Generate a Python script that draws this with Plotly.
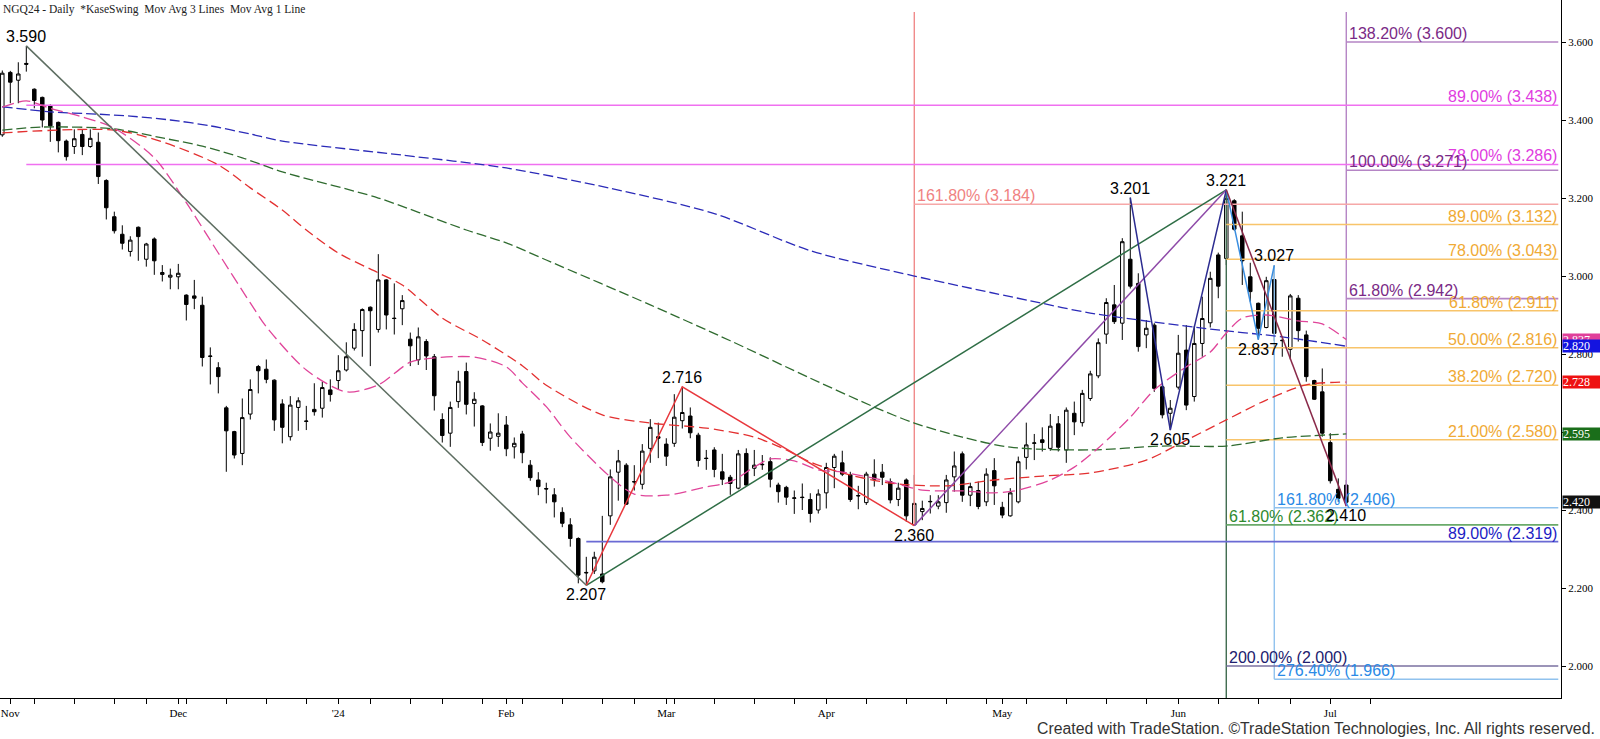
import pandas as pd
import plotly.graph_objects as go

# ---------------- DATA ----------------
HOLIDAYS = ["2023-11-23", "2023-12-25", "2024-01-01", "2024-01-15", "2024-02-19",
            "2024-03-29", "2024-05-27", "2024-06-19"]
calendar = [d for d in pd.bdate_range("2023-10-31", "2024-07-08")
            if d.strftime("%Y-%m-%d") not in HOLIDAYS]
FIRST_SESSION = -1          # 2023-10-31 ; session 0 = 2023-11-01
month_labels = ["Nov", "Dec", "'24", "Feb", "Mar", "Apr", "May", "Jun", "Jul"]

opens = [3.362, 3.522, 3.502, 3.545, 3.479, 3.458, 3.437, 3.394, 3.346, 3.332,
         3.363, 3.332, 3.343, 3.245, 3.152, 3.107, 3.063, 3.125, 3.043, 3.095,
         3.004, 2.997, 2.998, 2.951, 2.949, 2.925, 2.795, 2.765, 2.662, 2.601,
         2.545, 2.646, 2.768, 2.761, 2.733, 2.672, 2.588, 2.663, 2.627, 2.658,
         2.661, 2.708, 2.732, 2.759, 2.815, 2.860, 2.920, 2.863, 2.990, 2.892,
         2.916, 2.838, 2.785, 2.832, 2.793, 2.632, 2.597, 2.678, 2.755, 2.673,
         2.667, 2.584, 2.589, 2.618, 2.562, 2.595, 2.515, 2.477, 2.455, 2.439,
         2.394, 2.362, 2.327, 2.240, 2.244, 2.236, 2.385, 2.497, 2.515, 2.473,
         2.466, 2.558, 2.588, 2.569, 2.571, 2.629, 2.641, 2.592, 2.533, 2.554,
         2.498, 2.484, 2.456, 2.545, 2.507, 2.516, 2.524, 2.464, 2.458, 2.430,
         2.433, 2.427, 2.400, 2.444, 2.509, 2.521, 2.490, 2.436, 2.419, 2.492,
         2.497, 2.473, 2.427, 2.477, 2.362, 2.396, 2.421, 2.410, 2.419, 2.485,
         2.544, 2.438, 2.450, 2.421, 2.501, 2.407, 2.385, 2.421, 2.535, 2.571,
         2.580, 2.558, 2.621, 2.554, 2.648, 2.624, 2.686, 2.744, 2.851, 2.926,
         2.879, 3.043, 2.981, 2.849, 2.874, 2.716, 2.648, 2.715, 2.810, 2.691,
         2.827, 2.880, 3.054, 3.045, 3.193, 3.103, 2.998, 2.930, 2.868, 2.991,
         2.834, 2.812, 2.943, 2.849, 2.732, 2.703, 2.573, 2.453, 2.464]
highs = [3.527, 3.526, 3.548, 3.590, 3.481, 3.460, 3.440, 3.396, 3.350, 3.376,
         3.376, 3.376, 3.368, 3.248, 3.165, 3.130, 3.102, 3.127, 3.085, 3.099,
         3.028, 3.019, 3.031, 2.953, 2.990, 2.947, 2.817, 2.779, 2.667, 2.603,
         2.686, 2.735, 2.772, 2.786, 2.735, 2.684, 2.692, 2.689, 2.667, 2.725,
         2.729, 2.735, 2.797, 2.830, 2.879, 2.917, 2.922, 3.056, 2.992, 2.981,
         2.951, 2.855, 2.868, 2.838, 2.800, 2.648, 2.678, 2.757, 2.778, 2.702,
         2.669, 2.622, 2.648, 2.641, 2.586, 2.603, 2.528, 2.497, 2.470, 2.456,
         2.407, 2.379, 2.330, 2.280, 2.293, 2.385, 2.504, 2.554, 2.520, 2.515,
         2.569, 2.633, 2.624, 2.584, 2.697, 2.716, 2.663, 2.598, 2.554, 2.561,
         2.544, 2.490, 2.554, 2.558, 2.554, 2.541, 2.535, 2.470, 2.462, 2.450,
         2.468, 2.443, 2.453, 2.521, 2.544, 2.552, 2.498, 2.462, 2.498, 2.530,
         2.518, 2.481, 2.470, 2.481, 2.490, 2.424, 2.438, 2.438, 2.490, 2.550,
         2.550, 2.470, 2.473, 2.507, 2.533, 2.421, 2.456, 2.537, 2.624, 2.595,
         2.612, 2.646, 2.641, 2.663, 2.678, 2.708, 2.757, 2.840, 2.943, 2.977,
         3.097, 3.201, 3.007, 2.887, 2.879, 2.720, 2.682, 2.849, 2.874, 2.872,
         2.947, 3.011, 3.060, 3.221, 3.197, 3.165, 3.034, 2.932, 2.998, 3.027,
         2.840, 2.954, 2.951, 2.860, 2.734, 2.763, 2.597, 2.481, 2.477]
lows = [3.357, 3.443, 3.443, 3.524, 3.430, 3.381, 3.344, 3.317, 3.296, 3.313,
        3.310, 3.329, 3.236, 3.145, 3.109, 3.068, 3.050, 3.039, 3.024, 3.003,
        2.986, 2.966, 2.966, 2.886, 2.915, 2.768, 2.722, 2.699, 2.498, 2.532,
        2.515, 2.632, 2.699, 2.725, 2.603, 2.571, 2.578, 2.603, 2.605, 2.642,
        2.637, 2.678, 2.709, 2.755, 2.809, 2.793, 2.769, 2.855, 2.863, 2.850,
        2.874, 2.769, 2.772, 2.759, 2.655, 2.573, 2.562, 2.662, 2.645, 2.614,
        2.564, 2.552, 2.562, 2.538, 2.532, 2.520, 2.475, 2.438, 2.417, 2.381,
        2.356, 2.306, 2.212, 2.207, 2.236, 2.212, 2.362, 2.424, 2.413, 2.450,
        2.453, 2.521, 2.533, 2.513, 2.562, 2.609, 2.584, 2.511, 2.503, 2.484,
        2.464, 2.439, 2.453, 2.462, 2.487, 2.503, 2.458, 2.419, 2.413, 2.390,
        2.400, 2.368, 2.391, 2.404, 2.456, 2.487, 2.421, 2.402, 2.413, 2.460,
        2.464, 2.417, 2.410, 2.370, 2.360, 2.374, 2.391, 2.402, 2.393, 2.447,
        2.421, 2.410, 2.402, 2.410, 2.413, 2.379, 2.383, 2.417, 2.504, 2.528,
        2.550, 2.552, 2.550, 2.521, 2.592, 2.614, 2.680, 2.738, 2.826, 2.877,
        2.836, 2.968, 2.806, 2.815, 2.703, 2.635, 2.605, 2.709, 2.656, 2.678,
        2.793, 2.868, 2.943, 3.028, 3.116, 2.977, 2.934, 2.837, 2.866, 2.834,
        2.793, 2.786, 2.832, 2.729, 2.682, 2.588, 2.468, 2.421, 2.410]
closes = [3.520, 3.497, 3.518, 3.543, 3.450, 3.400, 3.385, 3.347, 3.306, 3.352,
          3.332, 3.353, 3.255, 3.175, 3.116, 3.084, 3.092, 3.101, 3.082, 3.039,
          3.009, 3.002, 3.007, 2.927, 2.943, 2.791, 2.794, 2.742, 2.603, 2.541,
          2.637, 2.709, 2.757, 2.735, 2.631, 2.612, 2.669, 2.680, 2.628, 2.652,
          2.714, 2.696, 2.757, 2.793, 2.863, 2.914, 2.911, 2.990, 2.900, 2.891,
          2.937, 2.821, 2.844, 2.795, 2.693, 2.591, 2.663, 2.730, 2.671, 2.684,
          2.573, 2.600, 2.597, 2.557, 2.571, 2.547, 2.483, 2.460, 2.454, 2.421,
          2.366, 2.327, 2.233, 2.239, 2.279, 2.216, 2.485, 2.526, 2.415, 2.472,
          2.551, 2.612, 2.584, 2.538, 2.638, 2.650, 2.598, 2.527, 2.532, 2.504,
          2.479, 2.468, 2.544, 2.464, 2.515, 2.517, 2.479, 2.447, 2.433, 2.431,
          2.432, 2.391, 2.441, 2.509, 2.538, 2.492, 2.427, 2.437, 2.492, 2.479,
          2.484, 2.426, 2.456, 2.385, 2.417, 2.404, 2.422, 2.421, 2.477, 2.513,
          2.438, 2.460, 2.409, 2.492, 2.462, 2.387, 2.444, 2.524, 2.567, 2.572,
          2.573, 2.615, 2.561, 2.656, 2.626, 2.699, 2.749, 2.829, 2.932, 2.883,
          3.088, 2.974, 2.819, 2.866, 2.712, 2.644, 2.661, 2.802, 2.669, 2.827,
          2.891, 2.994, 2.974, 3.199, 3.120, 3.039, 2.960, 2.866, 2.988, 2.853,
          2.835, 2.949, 2.860, 2.742, 2.684, 2.597, 2.475, 2.430, 2.420]

# moving averages (session number, value)
ma_blue_s = [-1, 5, 11, 15, 20, 25, 30, 34, 49, 62, 75, 88, 100, 113, 129, 135, 150, 159, 167]
ma_blue_v = [3.434, 3.421, 3.415, 3.410, 3.400, 3.385, 3.364, 3.346, 3.310, 3.277, 3.225,
             3.160, 3.065, 3.000, 2.930, 2.905, 2.864, 2.844, 2.820]
ma_green_s = [-1, 4, 13, 19, 24, 29, 34, 46, 57, 62, 67, 80, 90, 100, 108, 113, 119, 125,
              135, 144, 152, 159, 167]
ma_green_v = [3.374, 3.382, 3.377, 3.354, 3.333, 3.303, 3.267, 3.200, 3.118, 3.085, 3.041,
              2.926, 2.834, 2.738, 2.664, 2.623, 2.587, 2.561, 2.554, 2.564, 2.564, 2.585, 2.595]
ma_red_s = [-1, 13, 19, 26, 30, 34, 37, 41, 46, 49, 54, 59, 64, 67, 74, 80, 87, 93, 97,
            100, 104, 110, 117, 123, 129, 135, 142, 147, 152, 157, 162, 167]
ma_red_v = [3.367, 3.374, 3.344, 3.285, 3.226, 3.169, 3.118, 3.059, 3.008, 2.977, 2.892,
            2.836, 2.770, 2.720, 2.644, 2.623, 2.610, 2.587, 2.554, 2.523, 2.495, 2.469,
            2.462, 2.477, 2.487, 2.495, 2.528, 2.579, 2.631, 2.682, 2.721, 2.728]
ma_pink_s = [-1, 2, 5, 9, 13, 18, 22, 26, 30, 32, 37, 42, 46, 50, 53, 58, 62, 64, 67, 70,
             75, 78, 82, 87, 90, 93, 95, 98, 101, 104, 110, 114, 119, 123, 126, 130, 133,
             136, 140, 143, 147, 150, 152, 154, 157, 161, 164, 167]
ma_pink_v = [3.433, 3.449, 3.430, 3.408, 3.379, 3.303, 3.188, 3.059, 2.931, 2.870, 2.759,
             2.703, 2.721, 2.779, 2.790, 2.792, 2.767, 2.726, 2.665, 2.587, 2.485, 2.441,
             2.438, 2.459, 2.472, 2.510, 2.531, 2.526, 2.503, 2.497, 2.472, 2.451, 2.449,
             2.444, 2.451, 2.477, 2.510, 2.559, 2.638, 2.708, 2.767, 2.805, 2.854, 2.892,
             2.900, 2.885, 2.877, 2.837]

# KaseSwing pivots
swing_sessions = [2, 72, 84, 113, 140, 145, 152, 156, 158, 167]
swing_prices = [3.590, 2.207, 2.716, 2.360, 3.201, 2.605, 3.221, 2.837, 3.027, 2.410]
swing_sides = ["above", "below", "above", "below", "above", "below", "above", "below",
               "above", "below"]

# Fibonacci level sets
fib_orange_levels = [3.132, 3.043, 2.911, 2.816, 2.720, 2.580]
fib_orange_pcts = ["89.00%", "78.00%", "61.80%", "50.00%", "38.20%", "21.00%"]
fib_magenta_levels = [3.438, 3.286]
fib_magenta_pcts = ["89.00%", "78.00%"]
fib_navy_levels = [2.319]
fib_navy_pcts = ["89.00%"]
fib_purple_levels = [3.600, 3.271, 2.942]
fib_purple_pcts = ["138.20%", "100.00%", "61.80%"]
fib_salmon_levels = [3.184]
fib_salmon_pcts = ["161.80%"]
fib_green_levels = [2.362]
fib_green_pcts = ["61.80%"]
fib_gray_levels = [2.000]
fib_gray_pcts = ["200.00%"]
fib_sky_levels = [2.406, 1.966]
fib_sky_pcts = ["161.80%", "276.40%"]

# ---------------- LAYOUT CONSTANTS ----------------
X_LEFT, X_RIGHT = -1.2875, 193.84
X_LINE_END = 193.5
Y_LO, Y_HI = 1.918, 3.7077
FIB_TOP = 3.677
SANS = "Liberation Sans, Arial, sans-serif"
SERIF = "Liberation Serif, Times New Roman, serif"

sessions = list(range(FIRST_SESSION, FIRST_SESSION + len(calendar)))
bar_x = sessions[:len(opens)]

# month and week ticks from the trading calendar
month_ticks, week_ticks = [], []
for k in range(1, len(calendar)):
    if calendar[k].month != calendar[k - 1].month:
        month_ticks.append(sessions[k])
    if calendar[k].isocalendar()[1] != calendar[k - 1].isocalendar()[1]:
        week_ticks.append(sessions[k])

fig = go.Figure()

fig.add_trace(go.Candlestick(
    x=bar_x, open=opens, high=highs, low=lows, close=closes,
    increasing=dict(line=dict(color="black", width=1), fillcolor="white"),
    decreasing=dict(line=dict(color="black", width=1), fillcolor="black"),
    whiskerwidth=0, hoverinfo="skip", showlegend=False))

annotations = []

def hline(x0, x1, y, color, width=1.6):
    fig.add_trace(go.Scatter(x=[x0, x1], y=[y, y], mode="lines",
                             line=dict(color=color, width=width),
                             hoverinfo="skip", showlegend=False))

def vline(x, y0, y1, color, width=1.4):
    fig.add_trace(go.Scatter(x=[x, x], y=[y0, y1], mode="lines",
                             line=dict(color=color, width=width),
                             hoverinfo="skip", showlegend=False))

def fib_set(anchor, levels, pcts, lcolor, tcolor, align):
    for v, pct in zip(levels, pcts):
        hline(anchor, X_LINE_END, v, lcolor)
        txt = f"{pct} ({v:.3f})"
        if align == "right":
            annotations.append(dict(x=X_LINE_END, y=v, xref="x", yref="y", text=txt,
                                    showarrow=False, xanchor="right", yanchor="bottom",
                                    font=dict(family=SANS, size=16, color=tcolor),
                                    borderpad=0, yshift=-1))
        else:
            annotations.append(dict(x=anchor, y=v, xref="x", yref="y", text=txt,
                                    showarrow=False, xanchor="left", yanchor="bottom",
                                    xshift=2, font=dict(family=SANS, size=16, color=tcolor),
                                    borderpad=0, yshift=-1))

# vertical fib anchors
vline(swing_sessions[9], swing_prices[9], FIB_TOP, "#b585c5")
vline(swing_sessions[3], swing_prices[3], FIB_TOP, "#f08a8a")
vline(swing_sessions[6], Y_LO, swing_prices[6], "#3f6b4f")
vline(swing_sessions[8], fib_sky_levels[-1], swing_prices[8], "#90c2ee")

fib_set(swing_sessions[6], fib_orange_levels, fib_orange_pcts, "#f8c46a", "#f0aa35", "right")
fib_set(swing_sessions[0], fib_magenta_levels, fib_magenta_pcts, "#f070f0", "#e03ce0", "right")
fib_set(swing_sessions[1], fib_navy_levels, fib_navy_pcts, "#6a6ad4", "#1c1cc4", "right")
fib_set(swing_sessions[9], fib_purple_levels, fib_purple_pcts, "#b585c5", "#7a2a86", "left")
fib_set(swing_sessions[3], fib_salmon_levels, fib_salmon_pcts, "#f6a8a8", "#f08282", "left")
fib_set(swing_sessions[6], fib_green_levels, fib_green_pcts, "#6aaa6a", "#2e8a2e", "left")
fib_set(swing_sessions[6], fib_gray_levels, fib_gray_pcts, "#7a70a0", "#20206e", "left")
fib_set(swing_sessions[8], fib_sky_levels, fib_sky_pcts, "#90c2ee", "#2a8ae6", "left")

# moving averages
for s, v, col, dash in [(ma_blue_s, ma_blue_v, "#2b2bb8", "10px,4px"),
                        (ma_green_s, ma_green_v, "#2f6b2f", "10px,4px"),
                        (ma_red_s, ma_red_v, "#e33030", "10px,5px"),
                        (ma_pink_s, ma_pink_v, "#e0459a", "12px,5px")]:
    fig.add_trace(go.Scatter(x=s, y=v, mode="lines",
                             line=dict(color=col, width=1.3, dash=dash, shape="spline",
                                       smoothing=0.8),
                             hoverinfo="skip", showlegend=False))

# swing lines
zig_paths = [([0, 1], "#5e6e62"), ([1, 6], "#2f6e46"), ([1, 2, 3], "#e8383d"),
             ([3, 6], "#8e4aa8"), ([4, 5, 6], "#2c2c90"), ([6, 7, 8], "#3a8ee0"),
             ([6, 9], "#8a2a4a")]
for path, col in zig_paths:
    fig.add_trace(go.Scatter(x=[swing_sessions[k] for k in path],
                             y=[swing_prices[k] for k in path], mode="lines",
                             line=dict(color=col, width=1.5),
                             hoverinfo="skip", showlegend=False))

for s, p, side in zip(swing_sessions, swing_prices, swing_sides):
    annotations.append(dict(x=s, y=p, xref="x", yref="y", text=f"{p:.3f}", showarrow=False,
                            xanchor="center", yanchor="bottom" if side == "above" else "top",
                            font=dict(family=SANS, size=16, color="black"), borderpad=0))

# right-axis value flags
flags = [(ma_pink_v[-1], "#e0409a"), (ma_blue_v[-1], "#1414e0"), (ma_red_v[-1], "#ee1111"),
         (ma_green_v[-1], "#1a6e1a"), (closes[-1], "#111111")]
for v, col in flags:
    annotations.append(dict(x=1, y=v, xref="paper", yref="y", text=f"{v:.3f}", showarrow=False,
                            xanchor="left", yanchor="middle", xshift=1, bgcolor=col,
                            width=37, height=12, align="left",
                            font=dict(family=SERIF, size=12, color="white"), borderpad=0))

annotations.append(dict(x=0, y=1, xref="paper", yref="paper",
                        text="NGQ24 - Daily  *KaseSwing  Mov Avg 3 Lines  Mov Avg 1 Line",
                        showarrow=False, xanchor="left", yanchor="top", xshift=1, yshift=-1,
                        font=dict(family=SERIF, size=11.5, color="#222222")))
annotations.append(dict(x=1, y=0, xref="paper", yref="paper",
                        text="Created with TradeStation. ©TradeStation Technologies, Inc. All rights reserved.",
                        showarrow=False, xanchor="right", yanchor="middle", xshift=36, yshift=-30,
                        font=dict(family="Liberation Sans, Arial, sans-serif",
                                  size=15.8, color="#333333")))

y_ticks = [2.0, 2.2, 2.4, 2.6, 2.8, 3.0, 3.2, 3.4, 3.6]

fig.update_layout(
    width=1600, height=739, margin=dict(l=0, r=39, t=0, b=41),
    paper_bgcolor="white", plot_bgcolor="white", showlegend=False, boxgap=0.38,
    annotations=annotations,
    xaxis=dict(range=[X_LEFT, X_RIGHT], showgrid=False, zeroline=False, showline=True,
               linecolor="black", linewidth=1, ticks="outside", ticklen=5, tickcolor="black",
               tickvals=month_ticks, ticktext=month_labels[:len(month_ticks)],
               tickfont=dict(family=SERIF, size=11, color="black"),
               rangeslider=dict(visible=False),
               minor=dict(tickmode="array", tickvals=week_ticks, ticks="outside", ticklen=5,
                          tickcolor="black", showgrid=False)),
    yaxis=dict(side="right", range=[Y_LO, Y_HI], showgrid=False, zeroline=False,
               showline=True, linecolor="black", linewidth=1, ticks="outside", ticklen=4,
               tickcolor="black", tickvals=y_ticks, ticktext=[f"{v:.3f}" for v in y_ticks],
               tickfont=dict(family=SERIF, size=11, color="black")),
)

fig.write_html("out.html")
